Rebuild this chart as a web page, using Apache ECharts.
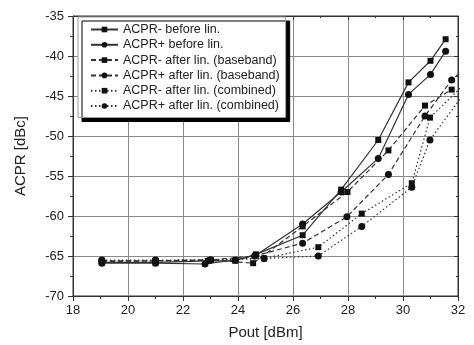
<!DOCTYPE html>
<html><head><meta charset="utf-8">
<script src="https://cdn.jsdelivr.net/npm/echarts@6/dist/echarts.min.js"></script>
<style>html,body{margin:0;padding:0;background:#fff}#c{width:474px;height:345px}</style>
</head><body><div id="c"></div>
<script>
var seriesNames = [
  'ACPR- before lin.',
  'ACPR+ before lin.',
  'ACPR- after lin. (baseband)',
  'ACPR+ after lin. (baseband)',
  'ACPR- after lin. (combined)',
  'ACPR+ after lin. (combined)'
];
var acprMinusBefore = [[19.05,-65.8],[21,-65.8],[22.9,-65.6],[23.9,-65.6],[24.65,-64.8],[26.35,-62.4],[27.75,-56.7],[29.1,-50.5],[30.2,-43.3],[31.0,-40.6],[31.55,-37.9]];
var acprPlusBefore = [[19.05,-65.9],[21,-65.9],[22.8,-66.0],[23.9,-65.5],[24.65,-64.9],[26.35,-61.0],[27.75,-57.0],[29.1,-52.8],[30.2,-44.8],[31.0,-42.3],[31.55,-39.4]];
var acprMinusBaseband = [[19.05,-65.7],[21,-65.6],[23,-65.5],[24.55,-65.9],[26.35,-61.3],[27.98,-57.0],[29.47,-51.8],[30.8,-46.2],[31.77,-44.2]];
var acprPlusBaseband = [[19.05,-65.6],[21,-65.6],[23,-65.5],[24.6,-65.0],[26.35,-63.4],[27.96,-60.1],[29.47,-54.8],[30.8,-47.5],[31.77,-43.0],[32.3,-41.4]];
var acprMinusCombined = [[19.05,-65.6],[21,-65.6],[23,-65.5],[24.95,-65.3],[26.92,-63.9],[28.5,-59.7],[30.32,-55.9],[30.98,-47.7],[32.3,-43.3]];
var acprPlusCombined = [[19.05,-65.5],[21,-65.5],[23,-65.5],[24.95,-65.3],[26.92,-65.0],[28.5,-61.3],[30.32,-56.4],[30.98,-50.5],[32.3,-44.3]];
var xTicks = {min: 18, max: 32, interval: 2};
var yTicks = {min: -70, max: -35, interval: 5};

var allData = [acprMinusBefore, acprPlusBefore, acprMinusBaseband, acprPlusBaseband, acprMinusCombined, acprPlusCombined];
var symbols = ['rect','circle','rect','circle','rect','circle'];
var lineTypes = ['solid','solid',[5,3],[5,3],[1.5,2.5],[1.5,2.5]];
var font = 'Liberation Sans, Arial, sans-serif';

var series = allData.map(function(d, i){
  return {
    name: seriesNames[i], type: 'line', data: d,
    symbol: symbols[i], symbolSize: symbols[i]==='rect' ? 6 : 7,
    itemStyle: {color: '#111'},
    lineStyle: {color: '#333', width: 1.2, type: lineTypes[i]},
    clip: true, animation: false, z: 3
  };
});

var chart = echarts.init(document.getElementById('c'), null, {renderer: 'canvas'});
chart.setOption({
  animation: false,
  backgroundColor: '#fff',
  grid: {left: 73, right: 16, top: 16, bottom: 49, show: true, borderColor: '#333', borderWidth: 1, backgroundColor: 'transparent'},
  legend: {
    orient: 'vertical', left: 78, top: 17,
    padding: [5, 6, 4, 12],
    itemWidth: 27, itemHeight: 7, itemGap: 0.3,
    backgroundColor: '#fff', borderColor: '#999', borderWidth: 1,
    shadowColor: '#000', shadowOffsetX: 4, shadowOffsetY: 4, shadowBlur: 0,
    textStyle: {fontFamily: font, fontSize: 12.5, color: '#222', lineHeight: 15},
    data: seriesNames
  },
  xAxis: [{
    type: 'value', min: xTicks.min, max: xTicks.max, interval: xTicks.interval,
    name: 'Pout [dBm]', nameLocation: 'middle', nameGap: 29,
    nameTextStyle: {fontFamily: font, fontSize: 15, color: '#222'},
    axisLine: {show: true, lineStyle: {color: '#333'}},
    axisTick: {show: true, inside: false, length: 5, lineStyle: {color: '#333'}},
    minorTick: {show: true, splitNumber: 2, length: 3, lineStyle: {color: '#333'}},
    axisLabel: {fontFamily: font, fontSize: 13, color: '#222', margin: 8},
    splitLine: {show: true, lineStyle: {color: '#8a8a8a', width: 1}}
  },{
    type: 'value', position: 'top', min: xTicks.min, max: xTicks.max, interval: xTicks.interval,
    axisLine: {show: true, lineStyle: {color: '#333'}},
    axisTick: {show: true, inside: true, length: 4, lineStyle: {color: '#333'}},
    minorTick: {show: true, splitNumber: 2, length: 2, lineStyle: {color: '#333'}},
    axisLabel: {show: false}, splitLine: {show: false}
  }],
  yAxis: [{
    type: 'value', min: yTicks.min, max: yTicks.max, interval: yTicks.interval,
    name: 'ACPR [dBc]', nameLocation: 'middle', nameGap: 45,
    nameTextStyle: {fontFamily: font, fontSize: 15, color: '#222'},
    axisLine: {show: true, lineStyle: {color: '#333'}},
    axisTick: {show: true, inside: false, length: 5, lineStyle: {color: '#333'}},
    minorTick: {show: true, splitNumber: 2, length: 3, lineStyle: {color: '#333'}},
    axisLabel: {fontFamily: font, fontSize: 13, color: '#222', margin: 9},
    splitLine: {show: true, lineStyle: {color: '#8a8a8a', width: 1}}
  },{
    type: 'value', position: 'right', min: yTicks.min, max: yTicks.max, interval: yTicks.interval,
    axisLine: {show: true, lineStyle: {color: '#333'}},
    axisTick: {show: true, inside: true, length: 4, lineStyle: {color: '#333'}},
    minorTick: {show: true, splitNumber: 2, length: 2, lineStyle: {color: '#333'}},
    axisLabel: {show: false}, splitLine: {show: false}
  }],
  series: series
});
</script></body></html>
